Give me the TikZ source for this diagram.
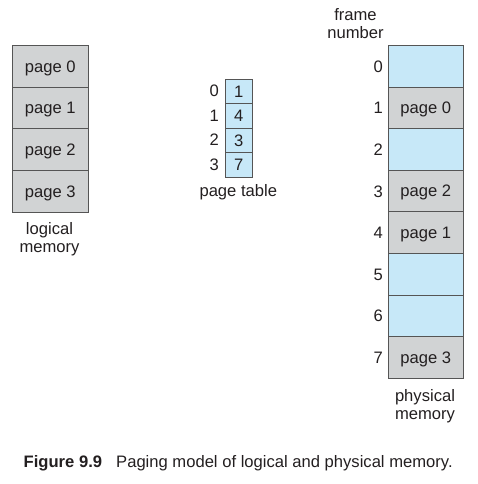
\documentclass[tikz,border=0pt]{standalone}
\usepackage{fontspec}
\setmainfont{Liberation Sans}
\definecolor{cellgray}{HTML}{D1D3D4}
\definecolor{cellblue}{HTML}{C7E8F8}
\definecolor{edge}{HTML}{555555}
\definecolor{ink}{HTML}{231F20}
\begin{document}
\begin{tikzpicture}[x=1pt,y=-1pt,
  every node/.style={font=\fontsize{16.6}{18}\selectfont, text=ink},
  cell/.style={draw=edge, line width=0.9pt, inner sep=0pt, anchor=north west,
     minimum width=75.5pt, minimum height=41.7pt, text depth=0pt},
  usedcell/.style={cell, fill=cellgray},
  freecell/.style={cell, fill=cellblue},
  ptcell/.style={draw=edge, line width=0.9pt, inner sep=0pt, anchor=north west,
     fill=cellblue, minimum width=26.7pt, minimum height=24.4pt},
  idx/.style={anchor=east, inner sep=0pt},
  lbl/.style={align=center, inner sep=0pt}]
\useasboundingbox (0,0) rectangle (478,484);
% logical memory
\node[usedcell] (l0) at (12,45) {page 0};
\node[usedcell] (l1) at (12,86.7) {page 1};
\node[usedcell] (l2) at (12,128.4) {page 2};
\node[usedcell] (l3) at (12,170.1) {page 3};
\node[lbl] (llbl) at (49.5,239.5) {logical\\memory};
% page table
\node[ptcell] (p0) at (225,79) {1};
\node[ptcell] (p1) at (225,103.4) {4};
\node[ptcell] (p2) at (225,127.8) {3};
\node[ptcell] (p3) at (225,152.2) {7};
\node[idx] (i0) at (219,91.2) {0};
\node[idx] (i1) at (219,115.6) {1};
\node[idx] (i2) at (219,140) {2};
\node[idx] (i3) at (219,164.4) {3};
\node[lbl] (plbl) at (238.3,192.5) {page table};
% physical memory
\node[freecell] (f0) at (387.5,45) {};
\node[usedcell] (f1) at (387.5,86.6) {page 0};
\node[freecell] (f2) at (387.5,128.2) {};
\node[usedcell] (f3) at (387.5,169.8) {page 2};
\node[usedcell] (f4) at (387.5,211.4) {page 1};
\node[freecell] (f5) at (387.5,253) {};
\node[freecell] (f6) at (387.5,294.6) {};
\node[usedcell] (f7) at (387.5,336.2) {page 3};
\foreach \k in {0,...,7}{
  \node[idx] (n\k) at (383,{66.5+41.6*\k}) {\k};
}
\node[lbl] (flbl) at (355.5,23.5) {frame\\number};
\node[lbl] (mlbl) at (425,406.5) {physical\\memory};
% caption
\node[anchor=base west, inner sep=0pt] (cap1) at (23.5,467) {\bfseries Figure 9.9};
\node[anchor=base west, inner sep=0pt] (cap2) at (116,467) {Paging model of logical and physical memory.};
\end{tikzpicture}
\end{document}
